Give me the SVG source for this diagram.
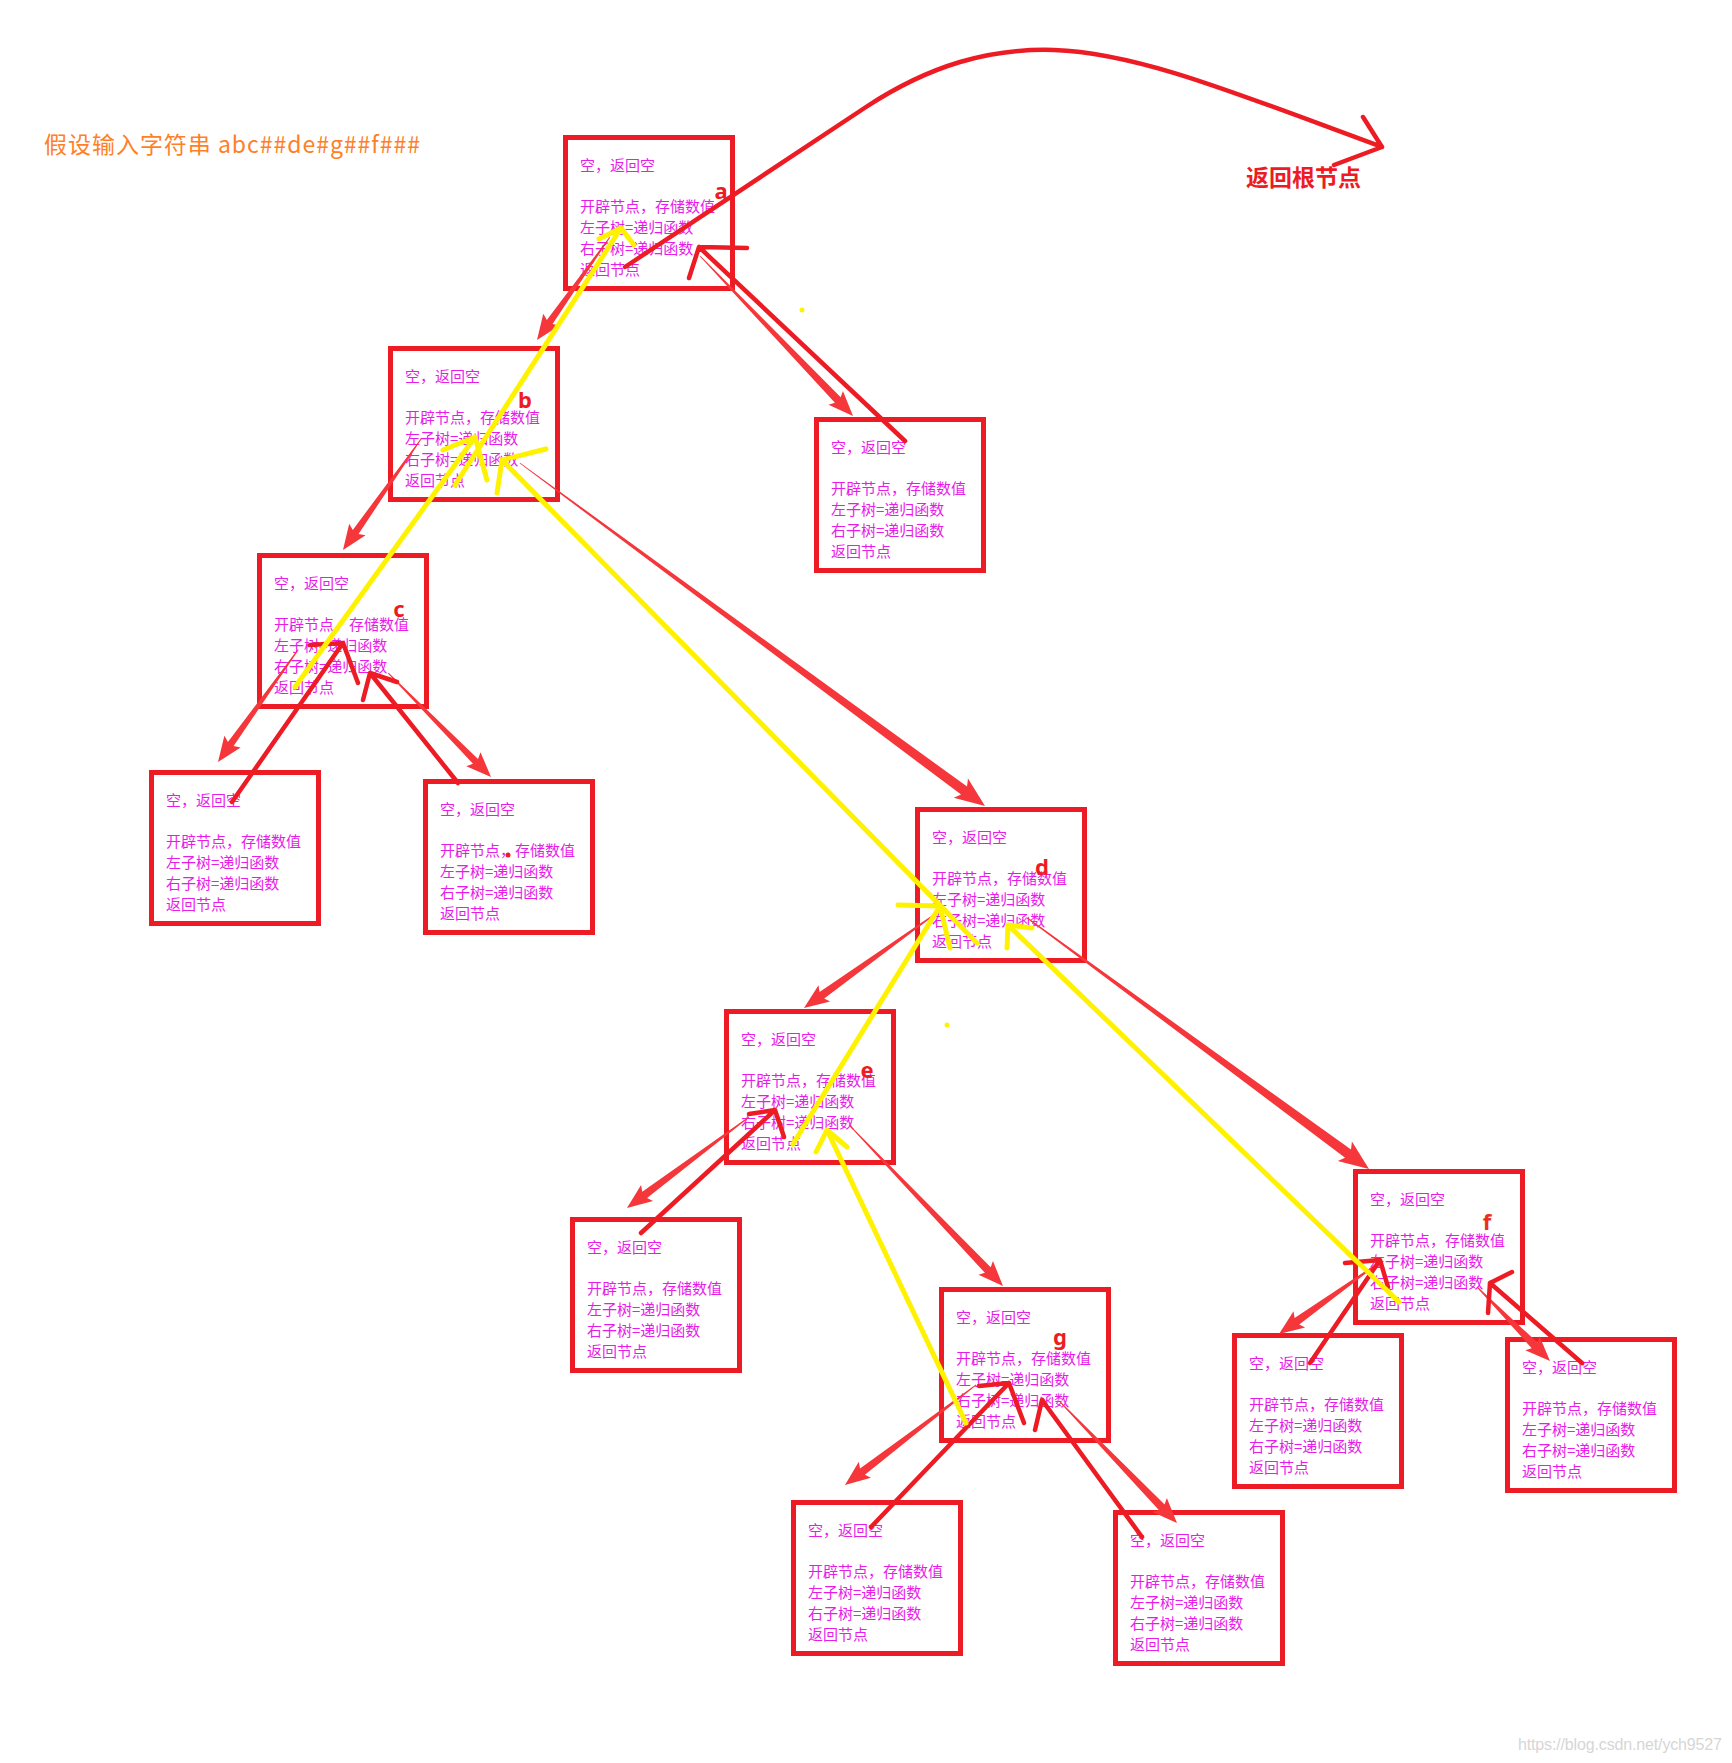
<svg xmlns="http://www.w3.org/2000/svg" width="1732" height="1763" viewBox="0 0 1732 1763">
<style>
.bg{fill:#ffffff}
.box{fill:none;stroke:#ED1C24;stroke-width:5}
.t{font-family:"Noto Sans CJK SC","Noto Sans",sans-serif;font-size:15px;fill:#E81CE8}
.lbl{font-family:"Noto Sans","Liberation Sans",sans-serif;font-size:22px;font-weight:bold;fill:#ED1C24;text-anchor:middle}
.ret{fill:none;stroke:#ED1C24;stroke-width:4.5;stroke-linecap:round;stroke-linejoin:round}
.yel{fill:none;stroke:#FFF200;stroke-width:5;stroke-linecap:round;stroke-linejoin:round}
.tap{fill:#F5363A}
.title{font-family:"Noto Sans CJK SC",sans-serif;font-size:23px;fill:#FF7F27}
.note{font-family:"Noto Sans CJK SC",sans-serif;font-size:23px;font-weight:bold;fill:#ED1C24}
.wm{font-family:"Liberation Sans",Arial,sans-serif;font-size:16px;fill:#d6d6d6}
</style>
<rect class="bg" x="0" y="0" width="1732" height="1763"/>
<text class="title" x="44" y="153" textLength="376">假设输入字符串 abc##de#g##f###</text>
<text class="note" x="1246" y="186">返回根节点</text>
<text class="wm" x="1518" y="1750" textLength="204">https://blog.csdn.net/ych9527</text>

<g id="node-a" transform="translate(563,135)">
<rect class="box" x="2.5" y="2.5" width="167" height="151"/>
<text class="t" x="17" y="36">空，返回空</text>
<text class="t" x="17" y="77">开辟节点，存储数值</text>
<text class="t" x="17" y="98">左子树=递归函数</text>
<text class="t" x="17" y="119">右子树=递归函数</text>
<text class="t" x="17" y="140">返回节点</text>
<text class="lbl" x="158" y="64">a</text>
</g>
<g id="node-a-right-null" transform="translate(814,417)">
<rect class="box" x="2.5" y="2.5" width="167" height="151"/>
<text class="t" x="17" y="36">空，返回空</text>
<text class="t" x="17" y="77">开辟节点，存储数值</text>
<text class="t" x="17" y="98">左子树=递归函数</text>
<text class="t" x="17" y="119">右子树=递归函数</text>
<text class="t" x="17" y="140">返回节点</text>
</g>
<g id="node-b" transform="translate(388,346)">
<rect class="box" x="2.5" y="2.5" width="167" height="151"/>
<text class="t" x="17" y="36">空，返回空</text>
<text class="t" x="17" y="77">开辟节点，存储数值</text>
<text class="t" x="17" y="98">左子树=递归函数</text>
<text class="t" x="17" y="119">右子树=递归函数</text>
<text class="t" x="17" y="140">返回节点</text>
<text class="lbl" x="137" y="62">b</text>
</g>
<g id="node-c" transform="translate(257,553)">
<rect class="box" x="2.5" y="2.5" width="167" height="151"/>
<text class="t" x="17" y="36">空，返回空</text>
<text class="t" x="17" y="77">开辟节点，存储数值</text>
<text class="t" x="17" y="98">左子树=递归函数</text>
<text class="t" x="17" y="119">右子树=递归函数</text>
<text class="t" x="17" y="140">返回节点</text>
<text class="lbl" x="142" y="64">c</text>
</g>
<g id="node-c-left-null" transform="translate(149,770)">
<rect class="box" x="2.5" y="2.5" width="167" height="151"/>
<text class="t" x="17" y="36">空，返回空</text>
<text class="t" x="17" y="77">开辟节点，存储数值</text>
<text class="t" x="17" y="98">左子树=递归函数</text>
<text class="t" x="17" y="119">右子树=递归函数</text>
<text class="t" x="17" y="140">返回节点</text>
</g>
<g id="node-c-right-null" transform="translate(423,779)">
<rect class="box" x="2.5" y="2.5" width="167" height="151"/>
<text class="t" x="17" y="36">空，返回空</text>
<text class="t" x="17" y="77">开辟节点，存储数值</text>
<text class="t" x="17" y="98">左子树=递归函数</text>
<text class="t" x="17" y="119">右子树=递归函数</text>
<text class="t" x="17" y="140">返回节点</text>
</g>
<g id="node-d" transform="translate(915,807)">
<rect class="box" x="2.5" y="2.5" width="167" height="151"/>
<text class="t" x="17" y="36">空，返回空</text>
<text class="t" x="17" y="77">开辟节点，存储数值</text>
<text class="t" x="17" y="98">左子树=递归函数</text>
<text class="t" x="17" y="119">右子树=递归函数</text>
<text class="t" x="17" y="140">返回节点</text>
<text class="lbl" x="127" y="68">d</text>
</g>
<g id="node-e" transform="translate(724,1009)">
<rect class="box" x="2.5" y="2.5" width="167" height="151"/>
<text class="t" x="17" y="36">空，返回空</text>
<text class="t" x="17" y="77">开辟节点，存储数值</text>
<text class="t" x="17" y="98">左子树=递归函数</text>
<text class="t" x="17" y="119">右子树=递归函数</text>
<text class="t" x="17" y="140">返回节点</text>
<text class="lbl" x="143" y="69">e</text>
</g>
<g id="node-e-left-null" transform="translate(570,1217)">
<rect class="box" x="2.5" y="2.5" width="167" height="151"/>
<text class="t" x="17" y="36">空，返回空</text>
<text class="t" x="17" y="77">开辟节点，存储数值</text>
<text class="t" x="17" y="98">左子树=递归函数</text>
<text class="t" x="17" y="119">右子树=递归函数</text>
<text class="t" x="17" y="140">返回节点</text>
</g>
<g id="node-g" transform="translate(939,1287)">
<rect class="box" x="2.5" y="2.5" width="167" height="151"/>
<text class="t" x="17" y="36">空，返回空</text>
<text class="t" x="17" y="77">开辟节点，存储数值</text>
<text class="t" x="17" y="98">左子树=递归函数</text>
<text class="t" x="17" y="119">右子树=递归函数</text>
<text class="t" x="17" y="140">返回节点</text>
<text class="lbl" x="121" y="58">g</text>
</g>
<g id="node-g-left-null" transform="translate(791,1500)">
<rect class="box" x="2.5" y="2.5" width="167" height="151"/>
<text class="t" x="17" y="36">空，返回空</text>
<text class="t" x="17" y="77">开辟节点，存储数值</text>
<text class="t" x="17" y="98">左子树=递归函数</text>
<text class="t" x="17" y="119">右子树=递归函数</text>
<text class="t" x="17" y="140">返回节点</text>
</g>
<g id="node-g-right-null" transform="translate(1113,1510)">
<rect class="box" x="2.5" y="2.5" width="167" height="151"/>
<text class="t" x="17" y="36">空，返回空</text>
<text class="t" x="17" y="77">开辟节点，存储数值</text>
<text class="t" x="17" y="98">左子树=递归函数</text>
<text class="t" x="17" y="119">右子树=递归函数</text>
<text class="t" x="17" y="140">返回节点</text>
</g>
<g id="node-f" transform="translate(1353,1169)">
<rect class="box" x="2.5" y="2.5" width="167" height="151"/>
<text class="t" x="17" y="36">空，返回空</text>
<text class="t" x="17" y="77">开辟节点，存储数值</text>
<text class="t" x="17" y="98">左子树=递归函数</text>
<text class="t" x="17" y="119">右子树=递归函数</text>
<text class="t" x="17" y="140">返回节点</text>
<text class="lbl" x="134" y="61" style="fill:#E8301E">f</text>
</g>
<g id="node-f-left-null" transform="translate(1232,1333)">
<rect class="box" x="2.5" y="2.5" width="167" height="151"/>
<text class="t" x="17" y="36">空，返回空</text>
<text class="t" x="17" y="77">开辟节点，存储数值</text>
<text class="t" x="17" y="98">左子树=递归函数</text>
<text class="t" x="17" y="119">右子树=递归函数</text>
<text class="t" x="17" y="140">返回节点</text>
</g>
<g id="node-f-right-null" transform="translate(1505,1337)">
<rect class="box" x="2.5" y="2.5" width="167" height="151"/>
<text class="t" x="17" y="36">空，返回空</text>
<text class="t" x="17" y="77">开辟节点，存储数值</text>
<text class="t" x="17" y="98">左子树=递归函数</text>
<text class="t" x="17" y="119">右子树=递归函数</text>
<text class="t" x="17" y="140">返回节点</text>
</g>

<g id="connectors">
<path class="tap" transform="translate(537,340) rotate(125.3)" d="M-126,-0.5 L-22,-3.5 L-25,-10 L0,0 L-25,10 L-22,3.5 L-126,0.5Z"/>
<path class="tap" transform="translate(853,416) rotate(46.3)" d="M-221,-0.5 L-22,-4 L-25,-10 L0,0 L-25,10 L-22,4 L-221,0.5Z"/>
<path class="tap" transform="translate(343,550) rotate(125.1)" d="M-136,-0.5 L-22,-3.5 L-25,-10 L0,0 L-25,10 L-22,3.5 L-136,0.5Z"/>
<path class="tap" transform="translate(985,806) rotate(36.4)" d="M-578,-0.4 L-26,-5 L-30,-12 L0,0 L-30,12 L-26,5 L-578,0.4Z"/>
<path class="tap" transform="translate(1369,1169) rotate(36.3)" d="M-424,-0.5 L-26,-5 L-30,-12 L0,0 L-30,12 L-26,5 L-424,0.5Z"/>
<path class="tap" transform="translate(804,1008) rotate(144.4)" d="M-165,-0.5 L-22,-4 L-25,-10 L0,0 L-25,10 L-22,4 L-165,0.5Z"/>
<path class="tap" transform="translate(218,762) rotate(125.5)" d="M-138,-0.5 L-22,-3.5 L-25,-10 L0,0 L-25,10 L-22,3.5 L-138,0.5Z"/>
<path class="tap" transform="translate(491,777) rotate(45.3)" d="M-146,-0.5 L-22,-3.5 L-25,-10 L0,0 L-25,10 L-22,3.5 L-146,0.5Z"/>
<path class="tap" transform="translate(627,1208) rotate(143.3)" d="M-152,-0.5 L-22,-4 L-25,-10 L0,0 L-25,10 L-22,4 L-152,0.5Z"/>
<path class="tap" transform="translate(1003,1286) rotate(46.3)" d="M-223,-0.5 L-22,-4 L-25,-10 L0,0 L-25,10 L-22,4 L-223,0.5Z"/>
<path class="tap" transform="translate(845,1485) rotate(142.6)" d="M-165,-0.5 L-22,-4 L-25,-10 L0,0 L-25,10 L-22,4 L-165,0.5Z"/>
<path class="tap" transform="translate(1177,1523) rotate(46)" d="M-168,-0.5 L-22,-4 L-25,-10 L0,0 L-25,10 L-22,4 L-168,0.5Z"/>
<path class="tap" transform="translate(1279,1334) rotate(144.5)" d="M-124,-0.5 L-22,-4 L-25,-10 L0,0 L-25,10 L-22,4 L-124,0.5Z"/>
<path class="tap" transform="translate(1550,1361) rotate(45.4)" d="M-104,-0.5 L-22,-4 L-25,-10 L0,0 L-25,10 L-22,4 L-104,0.5Z"/>

<path class="ret" d="M905,441 L699,247 M747,248 L699,247 L689,278"/>
<path class="ret" d="M232,802 L343,643 M358,683 L343,643 L310,645"/>
<path class="ret" d="M458,783 L370,673 M397,682 L370,673 L363,700"/>
<path class="ret" d="M641,1233 L775,1110 M749,1114 L775,1110 L784,1137"/>
<path class="ret" d="M871,1527 L1009,1383 M979,1386 L1009,1383 L1024,1423"/>
<path class="ret" d="M1142,1537 L1042,1400 L1035,1430"/>
<path class="ret" d="M1310,1363 L1380,1260 M1345,1263 L1380,1260 L1388,1287"/>
<path class="ret" d="M1582,1363 L1490,1283 M1512,1272 L1490,1283 L1488,1313"/>
<path class="ret" d="M625,267 L866,107 C930,65 990,48 1054,50 C1140,53 1240,95 1382,147 M1363,117 L1382,147 L1334,165"/>

<path class="yel" d="M455,485 L621,228 M599,239 L621,228 L634,245"/>
<path class="yel" d="M295,687 L475,437 M443,450 L475,437 L487,480"/>
<path class="yel" d="M977,943 L502,460 M546,449 L502,460 L497,493"/>
<path class="yel" d="M793,1144 L940,906 M898,905 L940,906 L950,948"/>
<path class="yel" d="M1399,1302 L1008,925 M1032,928 L1008,925 L1007,948"/>
<path class="yel" d="M966,1423 L827,1130 M816,1152 L827,1130 L847,1147"/>
</g>
<circle cx="802" cy="310" r="2.5" fill="#FFF200"/>
<circle cx="947" cy="1025" r="2.5" fill="#FFF200"/>
<circle cx="508" cy="855" r="2.5" fill="#ED1C24"/>
</svg>
